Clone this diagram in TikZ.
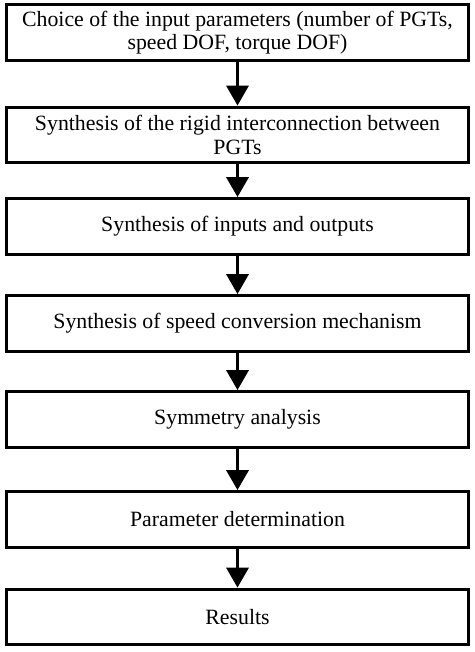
\documentclass[tikz,border=0pt]{standalone}
\usepackage{fontspec}
\setmainfont{Liberation Serif}
\usetikzlibrary{arrows.meta}
\begin{document}
\begin{tikzpicture}
[x=1pt,y=-1pt,
  stepbox/.style={shape=rectangle,draw,line width=3.3pt,minimum width=461.5pt,
    minimum height=55.5pt,inner sep=0pt,align=center,
    font=\fontsize{21.8}{23.5}\selectfont},%
  linearrow/.style={-{Triangle[width=22pt,length=20pt]},line width=3.5pt}]
\useasboundingbox (0,0) rectangle (474,652);
% boxes
\node (choice) at (237.5,32.5) [stepbox] {Choice of the input parameters (number of PGTs,\\speed DOF, torque DOF)};
\node (rigid) at (237.5,135) [stepbox] {Synthesis of the rigid interconnection between\\PGTs};
\node (inout) at (237.5,226.5) [stepbox] {Synthesis of inputs and outputs};
\node (speed) at (237.5,323.5) [stepbox] {Synthesis of speed conversion mechanism};
\node (sym) at (237.5,419.5) [stepbox] {Symmetry analysis};
\node (param) at (237.5,519.5) [stepbox] {Parameter determination};
\node (res) at (237.5,617) [stepbox] {Results};
% arrows
\path
(choice) edge[linearrow] node {} (rigid)
(rigid) edge[linearrow] node {} (inout)
(inout) edge[linearrow] node {} (speed)
(speed) edge[linearrow] node {} (sym)
(sym) edge[linearrow] node {} (param)
(param) edge[linearrow] node {} (res);
\end{tikzpicture}
\end{document}
